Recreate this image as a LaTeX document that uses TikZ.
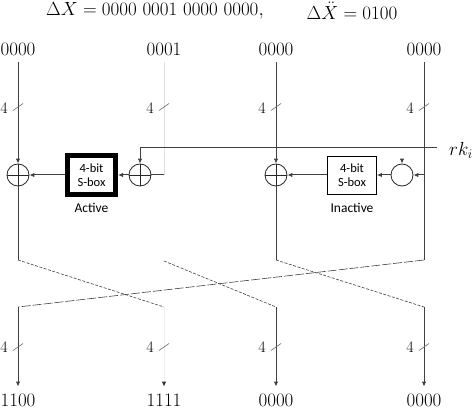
\documentclass[tikz,border=0pt]{standalone}
\usepackage{fix-cm}
\usepackage{fontspec}
\newfontfamily\calibri{Carlito}
\usetikzlibrary{arrows.meta}
\tikzset{
  wire/.style={draw=black!75, line width=1pt},
  arr/.style={wire, -{Latex[length=5pt,width=4.5pt]}},
  xorc/.style={circle, draw=black!85, line width=0.8pt, minimum size=22pt, inner sep=0pt},
  xorp/.style={xorc, path picture={\draw[black!85,line width=0.7pt]
      (path picture bounding box.north) -- (path picture bounding box.south)
      (path picture bounding box.west) -- (path picture bounding box.east);}},
  sbox/.style={draw, fill=white, align=center, inner sep=0pt,
      font=\calibri\fontsize{12.5}{14}\selectfont},
  lbl/.style={font=\calibri\fontsize{13.5}{15}\selectfont},
  head/.style={font=\fontsize{19}{21}\selectfont, inner sep=0pt},
  bits/.style={font=\fontsize{19}{21}\selectfont, inner sep=1pt, outer sep=6pt},
  wlab/.style={font=\fontsize{16}{17}\selectfont, inner sep=0pt},
  bus/.style={draw=black!60, line width=0.6pt},
  perm/.style={wire, line width=0.6pt, dash pattern=on 3pt off 1.5pt},
}
\begin{document}
\begin{tikzpicture}[x=1pt,y=-1pt]
\useasboundingbox (0,0) rectangle (474,409);

% Header
\node[head] (hx) at (155,11) {$\Delta X = 0000\ 0001\ 0000\ 0000,$};
\node[head] (hy) at (352,11) {$\Delta\ddot{X} = 0100$};

% Inputs
\node[bits] (i1) at (18,49) {0000};
\node[bits] (i2) at (164,49) {0001};
\node[bits] (i3) at (276,49) {0000};
\node[bits] (i4) at (424,49) {0000};

% Round function
\node[xorp] (x1) at (18,175) {};
\node[xorp] (x2) at (140,175) {};
\node[xorp] (x3) at (276,175) {};
\node[xorc] (x4) at (402,175) {};
\node[sbox, line width=5pt, minimum width=48pt, minimum height=39pt] (sa) at (91.5,175) {4-bit\\S-box};
\node[sbox, line width=0.9pt, minimum width=49pt, minimum height=38pt] (si) at (352,175) {4-bit\\S-box};
\node[lbl] (la) at (91.5,208) {Active};
\node[lbl] (li) at (352,208) {Inactive};
\node[font=\fontsize{19}{21}\selectfont, anchor=west, inner sep=0pt] (rk) at (449,150) {$rk_i$};

\coordinate (ke) at (437,148);
\coordinate (kc) at (140,148);
\coordinate (k4) at (402,159);
\coordinate (c2) at (164,175);
\coordinate (c4) at (424,175);
\coordinate (m1) at (18,260);
\coordinate (m2) at (164,261);
\coordinate (m3) at (276,260);
\coordinate (m4) at (424,260);
\coordinate (p1) at (18,307);
\coordinate (p2) at (164,307);
\coordinate (p3) at (276,307);
\coordinate (p4) at (424,307);

% Outputs
\node[bits] (o1) at (18,400) {1100};
\node[bits] (o2) at (164,400) {1111};
\node[bits] (o3) at (276,400) {0000};
\node[bits] (o4) at (424,400) {0000};

% Left half
\draw[arr] (i1) -- (x1);
\draw[wire] (x1) -- (m1);
\draw[wire, draw=black!12] (i2) -- (c2);
\draw[wire] (c2) -- (x2);
\draw[arr] (ke) -- (kc) -- (x2);
\draw[arr] (x2) -- (sa);
\draw[arr] (sa) -- (x1);

% Right half
\draw[arr] (i3) -- (x3);
\draw[wire] (x3) -- (m3);
\draw[wire] (i4) -- (m4);
\draw[arr] (c4) -- (x4);
\draw[arr] (k4) -- (x4);
\draw[arr] (x4) -- (si);
\draw[arr] (si) -- (x3);

% Permutation
\draw[perm] (m1) -- (p2);
\draw[perm] (m2) -- (p3);
\draw[perm] (m3) -- (p4);
\draw[perm, dash pattern=on 9pt off 2pt] (m4) -- (p1);

% Output wires
\draw[arr] (p1) -- (o1);
\draw[wire, draw=black!6, -{Latex[length=5pt,width=4.5pt,color=black!80]}] (p2) -- (o2);
\draw[arr] (p3) -- (o3);
\draw[arr] (p4) -- (o4);

% Bus widths
\foreach \c/\n in {18/1,164/2,276/3,424/4} {
  \node[wlab] (wt\n) at (\c-14,108) {4};
  \draw[bus] (\c-5,110.5) -- (\c+5,103.5);
  \node[wlab] (wb\n) at (\c-14,347) {4};
  \draw[bus] (\c-5,350.5) -- (\c+5,343.5);
}
\end{tikzpicture}
\end{document}
